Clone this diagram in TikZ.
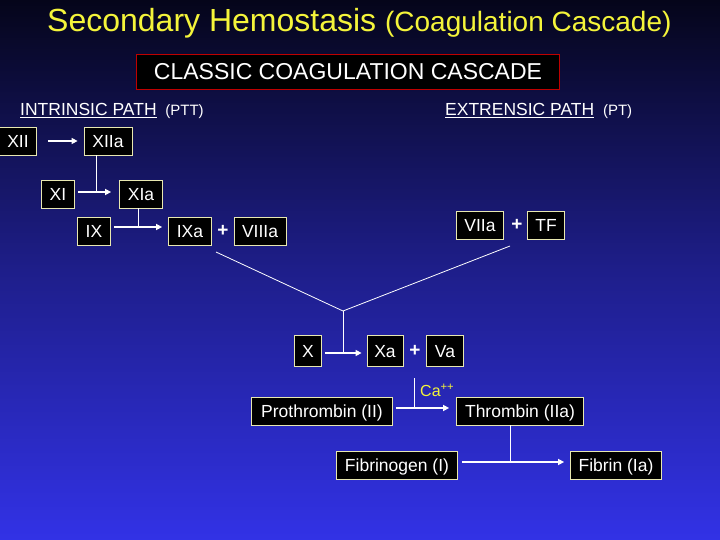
\documentclass[tikz,border=0pt]{standalone}
\usepackage{fontspec}
\setmainfont{Liberation Sans}
\usetikzlibrary{arrows.meta}
\definecolor{topc}{HTML}{05051A}
\definecolor{midc}{HTML}{1E1E8A}
\definecolor{botc}{HTML}{3232E6}
\definecolor{ttl}{HTML}{F4F43A}
\definecolor{bord}{HTML}{E8E8B0}
\tikzset{
  fac/.style={fill=black,draw=bord,line width=0.8pt,text=white,font=\fontsize{17.5}{19}\selectfont,inner sep=0pt,minimum height=28pt,text height=12.6pt,text depth=0pt},
  plus/.style={text=white,font=\fontsize{19}{20}\selectfont\bfseries},
  lnk/.style={white,line width=1pt},
  arr/.style={white,line width=2pt,-{Triangle[length=6pt,width=6pt]}},
  hdr/.style={text=white,font=\fontsize{17.5}{19}\selectfont,anchor=base west}
}
\begin{document}
\begin{tikzpicture}[x=1pt,y=-1pt]
\shade[top color=topc,bottom color=botc,middle color=midc] (0,0) rectangle (720,540);
\useasboundingbox (0,0) rectangle (720,540);
\node[anchor=base west,text=ttl,inner sep=0pt] (title) at (47,32) {\fontsize{32}{34}\selectfont Secondary Hemostasis \fontsize{28}{30}\selectfont(Coagulation Cascade)};
\node[fill=black,draw=red!75!black,line width=1pt,text=white,minimum width=423pt,minimum height=35pt,inner sep=0pt,font=\fontsize{23}{25}\selectfont] (classic) at (348,72) {CLASSIC COAGULATION CASCADE};
\node[hdr,inner sep=0pt] (ip) at (20,116) {\underline{INTRINSIC PATH}\enspace{\fontsize{15}{17}\selectfont(PTT)}};
\node[hdr,inner sep=0pt] (ep) at (445,116) {\underline{EXTRENSIC PATH}\enspace{\fontsize{15}{17}\selectfont(PT)}};
\node[fac,minimum width=37pt] (xii) at (18,141) {XII};
\node[fac,minimum width=48pt] (xiia) at (108,141) {XIIa};
\node[fac,minimum width=33pt] (xi) at (58,194) {XI};
\node[fac,minimum width=43pt] (xia) at (141,194) {XIa};
\node[fac,minimum width=33pt] (ix) at (94,231) {IX};
\node[fac,minimum width=43pt] (ixa) at (190,231) {IXa};
\node[plus] (p1) at (223,231) {+};
\node[fac,minimum width=52pt] (viiia) at (260,231) {VIIIa};
\node[fac,minimum width=47pt] (viia) at (480,225) {VIIa};
\node[plus] (p2) at (517,225) {+};
\node[fac,minimum width=37pt] (tf) at (546,225) {TF};
\node[fac,minimum width=27pt,minimum height=31pt] (x) at (308,351) {X};
\node[fac,minimum width=36pt,minimum height=31pt] (xa) at (385,351) {Xa};
\node[plus] (p3) at (415,351) {+};
\node[fac,minimum width=37pt,minimum height=31pt] (va) at (445,351) {Va};
\node[fac,minimum width=141pt] (pro) at (322,411) {Prothrombin (II)};
\node[fac,minimum width=127pt] (thr) at (520,411) {Thrombin (IIa)};
\node[fac,minimum width=121pt] (fbg) at (397,465) {Fibrinogen (I)};
\node[fac,minimum width=91pt] (fbn) at (616,465) {Fibrin (Ia)};
\node[text=ttl,font=\fontsize{16}{18}\selectfont,anchor=west,inner sep=0pt] (ca) at (420,390) {Ca\textsuperscript{++}};
% connectors
\draw[arr] ([xshift=11pt]xii.east) -- ([xshift=-6pt]xiia.west);
\coordinate (j1) at (96,192);
\draw[arr] ([xshift=3pt]xi.east |- j1) -- ([xshift=-8pt]xia.west |- j1);
\draw[lnk] (xiia.south -| j1) -- (j1);
\coordinate (j2) at (138,227);
\draw[arr] ([xshift=3pt]ix.east |- j2) -- ([xshift=-6pt]ixa.west |- j2);
\draw[lnk] (xia.south -| j2) -- (j2);
\coordinate (v) at (343,311);
\coordinate (la) at (216,252);
\coordinate (ra) at (510,246);
\draw[white,line width=0.8pt] (la) -- (v) -- (ra);
\coordinate (j3) at (343,353);
\draw[lnk] (v) -- (j3);
\draw[arr] ([xshift=3pt]x.east |- j3) -- ([xshift=-5pt]xa.west |- j3);
\coordinate (cat) at (414,378);
\coordinate (j4) at (414,408);
\draw[lnk] (cat) -- (j4);
\draw[arr] ([xshift=3pt]pro.east |- j4) -- ([xshift=-7pt]thr.west |- j4);
\coordinate (j5) at (510,462);
\draw[lnk] (thr.south -| j5) -- (j5);
\draw[arr] ([xshift=4pt]fbg.east |- j5) -- ([xshift=-6pt]fbn.west |- j5);
\end{tikzpicture}
\end{document}
